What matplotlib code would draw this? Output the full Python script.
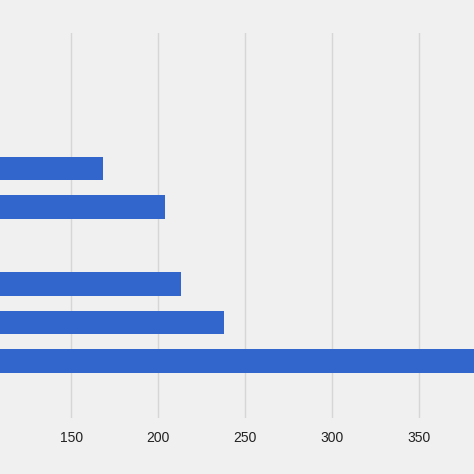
import matplotlib
matplotlib.use('Agg')
import matplotlib.pyplot as plt

# 10 rows, top to bottom; rows that show no bar are below the visible range
rows = list(range(10))
values = [0, 0, 0, 168, 204, 0, 213, 238, 400, 0]
ticks = [150, 200, 250, 300, 350]

bg = '#f0f0f0'
fig = plt.figure(figsize=(4.74, 4.74), dpi=100, facecolor=bg)
# plot area is wider than the picture, only the right part shows
ax = fig.add_axes([0, 56/474, 1, 385/474], facecolor=bg)

ax.barh([r + 0.52 for r in rows], values, height=0.605, color='#3366cc', zorder=3)

ax.set_xticks(ticks)
ax.set_xticklabels([str(t) for t in ticks], fontsize=10, color='#222222', family='Liberation Sans')
ax.set_xlim(108.85, 381.65)
ax.set_ylim(10, 0)
ax.set_yticks([])
ax.tick_params(axis='x', length=0, pad=9)
ax.grid(axis='x', color='#d6d6d6', linewidth=1, zorder=0)
for s in ax.spines.values():
    s.set_visible(False)

fig.savefig('out.png', dpi=100, facecolor=bg)
